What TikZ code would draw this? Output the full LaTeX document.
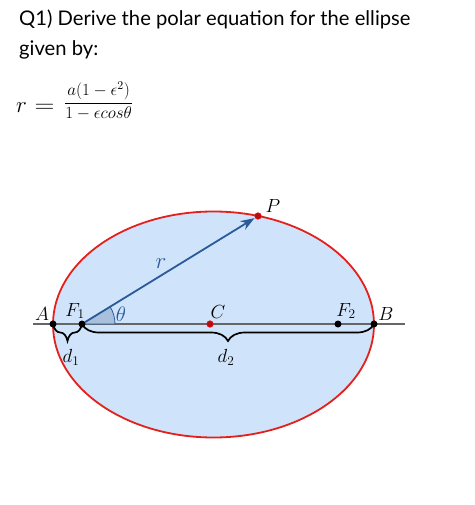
\RequirePackage{fix-cm}
\documentclass[tikz,border=0pt]{standalone}
\usepackage[no-math]{fontspec}
\usepackage{graphicx}
\newfontfamily\latofont{Lato}
\usetikzlibrary{arrows.meta,decorations.pathreplacing}
\definecolor{ellfill}{HTML}{CFE3FA}
\definecolor{ellred}{HTML}{E3201B}
\definecolor{vecblue}{HTML}{2A5A9A}
\definecolor{angfill}{HTML}{A9C0DC}
\definecolor{ptred}{HTML}{B01010}
\begin{document}
\begin{tikzpicture}[x=1pt,y=-1pt,
  bdot/.style={circle,fill=black,inner sep=0pt,minimum size=7pt},
  rdot/.style={circle,fill=ptred,draw=red,line width=0.6pt,inner sep=0pt,minimum size=6.5pt},
  lbl/.style={font=\fontsize{19}{19}\selectfont,inner sep=0pt},
  ttl/.style={anchor=base west,inner sep=0pt,font=\latofont\fontsize{20.2}{24}\selectfont},
  brc/.style={decorate,decoration={brace,mirror,amplitude=17pt},line width=1.7pt,black},
  vec/.style={vecblue,line width=1.8pt,-{Stealth[length=14pt,width=10pt]},shorten >=0.5pt}]
\useasboundingbox (0,0) rectangle (474,505);
% title
\node[ttl] (title1) at (19,26) {Q1) Derive the polar equation for the ellipse};
\node[ttl] (title2) at (19,55.5) {given by:};
\node[anchor=base west,inner sep=0pt,font=\fontsize{23}{23}\selectfont] (eqL) at (16,113) {$r\mkern6mu\scalebox{1.2}[1]{$=$}$};
\node[anchor=base west,inner sep=0pt,font=\fontsize{17}{17}\selectfont] (eqR) at (64,107)
  {$\displaystyle\frac{a(1-\epsilon^2)}{1-\epsilon cos\theta}$};
% ellipse
\coordinate (E0) at (213.5,324.5);
\fill[ellfill] (E0) ellipse [x radius=160.5, y radius=113];
% axis
\coordinate (axL) at (33,324);
\coordinate (axR) at (405,324);
\draw[gray!80!black,line width=1.1pt] (axL) -- (axR);
% angle sector
\coordinate (F1c) at (82,324);
\filldraw[fill=angfill,draw=vecblue,line width=0.8pt] (F1c) -- ++(33,0) arc[start angle=0,end angle=-31.5,radius=33] -- cycle;
\draw[ellred,line width=1.8pt] (E0) ellipse [x radius=160.5, y radius=113];
% points
\node[bdot] (A) at (53,324) {};
\node[bdot] (F1) at (82,324) {};
\node[bdot] (F2) at (338,324) {};
\node[bdot] (B) at (374,324) {};
\node[rdot] (C) at (210,324) {};
\node[rdot] (P) at (258,216) {};
% vector
\draw[vec] (F1) -- (P);
% braces
\draw[brc] (A.center) -- (F1.center);
\draw[brc] (F1.center) -- (B.center);
% labels
\node[lbl] (lA) at (42,314) {$A$};
\node[lbl] (lF1) at (75,311) {$F_1$};
\node[lbl,text=vecblue,font=\fontsize{21}{21}\selectfont] (lth) at (121,314) {$\theta$};
\node[lbl] (lC) at (218,312) {$C$};
\node[lbl] (lP) at (273,206) {$P$};
\node[lbl] (lF2) at (346,311) {$F_2$};
\node[lbl] (lB) at (386,314) {$B$};
\node[lbl] (ld1) at (71,357) {$d_1$};
\node[lbl] (ld2) at (226,357) {$d_2$};
\node[lbl,text=vecblue,font=\fontsize{23}{23}\selectfont] (lr) at (161,264) {$r$};
\end{tikzpicture}
\end{document}
